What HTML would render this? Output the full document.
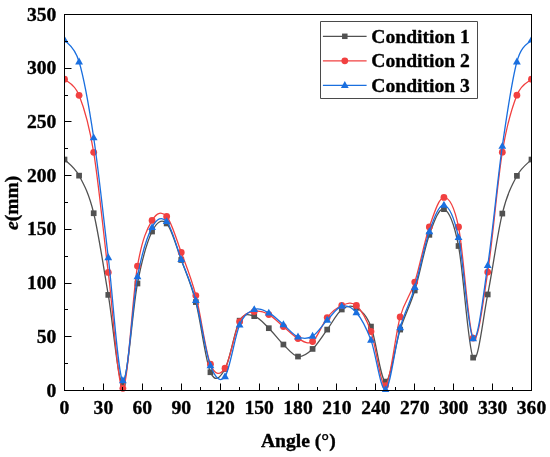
<!DOCTYPE html>
<html><head><meta charset="utf-8"><title>Chart</title>
<style>html,body{margin:0;padding:0;background:#fff}svg{display:block}</style></head>
<body>
<svg width="550" height="457" viewBox="0 0 550 457">
<rect width="550" height="457" fill="#fff"/>
<defs><clipPath id="c"><rect x="64.5" y="14.5" width="467.0" height="377.5"/></clipPath></defs>
<g clip-path="url(#c)">
<path d="M64.50,159.53C66.93,162.21 74.23,166.69 79.09,175.64C83.96,184.60 88.82,193.37 93.69,213.24C98.55,233.12 103.42,266.60 108.28,294.89C113.15,323.18 118.01,384.88 122.88,382.98C127.74,381.08 132.60,308.75 137.47,283.50C142.33,258.26 147.20,241.51 152.06,231.51C156.93,221.50 161.79,218.70 166.66,223.45C171.52,228.19 176.39,246.87 181.25,259.97C186.11,273.08 190.98,283.38 195.84,302.09C200.71,320.80 205.57,361.08 210.44,372.24C215.30,383.39 220.17,377.61 225.03,369.01C229.90,360.42 234.76,329.48 239.62,320.67C244.49,311.86 249.35,314.91 254.22,316.16C259.08,317.41 263.95,323.46 268.81,328.19C273.68,332.92 278.54,339.79 283.41,344.52C288.27,349.25 293.14,355.82 298.00,356.55C302.86,357.29 307.73,353.42 312.59,348.93C317.46,344.43 322.32,336.16 327.19,329.59C332.05,323.02 336.92,313.13 341.78,309.50C346.65,305.86 351.51,304.93 356.38,307.78C361.24,310.63 366.10,314.28 370.97,326.58C375.83,338.88 380.70,381.08 385.56,381.58C390.43,382.08 395.29,344.77 400.16,329.59C405.02,314.40 409.89,306.28 414.75,290.48C419.61,274.69 424.48,248.39 429.34,234.84C434.21,221.28 439.07,207.30 443.94,209.16C448.80,211.02 453.67,221.26 458.53,246.01C463.40,270.75 468.26,349.55 473.12,357.63C477.99,365.70 482.85,318.47 487.72,294.46C492.58,270.45 497.45,233.33 502.31,213.57C507.18,193.80 512.04,184.86 516.91,175.86C521.77,166.85 529.07,162.25 531.50,159.53" fill="none" stroke="#515151" stroke-width="1.3"/>
<g fill="#515151"><rect x="61.65" y="156.68" width="5.7" height="5.7"/><rect x="76.24" y="172.79" width="5.7" height="5.7"/><rect x="90.84" y="210.39" width="5.7" height="5.7"/><rect x="105.43" y="292.04" width="5.7" height="5.7"/><rect x="120.03" y="380.13" width="5.7" height="5.7"/><rect x="134.62" y="280.65" width="5.7" height="5.7"/><rect x="149.21" y="228.66" width="5.7" height="5.7"/><rect x="163.81" y="220.60" width="5.7" height="5.7"/><rect x="178.40" y="257.12" width="5.7" height="5.7"/><rect x="192.99" y="299.24" width="5.7" height="5.7"/><rect x="207.59" y="369.39" width="5.7" height="5.7"/><rect x="222.18" y="366.16" width="5.7" height="5.7"/><rect x="236.78" y="317.82" width="5.7" height="5.7"/><rect x="251.37" y="313.31" width="5.7" height="5.7"/><rect x="265.96" y="325.34" width="5.7" height="5.7"/><rect x="280.56" y="341.67" width="5.7" height="5.7"/><rect x="295.15" y="353.70" width="5.7" height="5.7"/><rect x="309.74" y="346.08" width="5.7" height="5.7"/><rect x="324.34" y="326.74" width="5.7" height="5.7"/><rect x="338.93" y="306.65" width="5.7" height="5.7"/><rect x="353.52" y="304.93" width="5.7" height="5.7"/><rect x="368.12" y="323.73" width="5.7" height="5.7"/><rect x="382.71" y="378.73" width="5.7" height="5.7"/><rect x="397.31" y="326.74" width="5.7" height="5.7"/><rect x="411.90" y="287.63" width="5.7" height="5.7"/><rect x="426.49" y="231.99" width="5.7" height="5.7"/><rect x="441.09" y="206.31" width="5.7" height="5.7"/><rect x="455.68" y="243.16" width="5.7" height="5.7"/><rect x="470.27" y="354.78" width="5.7" height="5.7"/><rect x="484.87" y="291.61" width="5.7" height="5.7"/><rect x="499.46" y="210.72" width="5.7" height="5.7"/><rect x="514.06" y="173.01" width="5.7" height="5.7"/><rect x="528.65" y="156.68" width="5.7" height="5.7"/></g>
<path d="M64.50,79.17C66.93,81.86 74.23,83.09 79.09,95.29C83.96,107.48 88.82,122.81 93.69,152.33C98.55,181.86 103.42,233.10 108.28,272.44C113.15,311.77 118.01,389.41 122.88,388.35C127.74,387.30 132.60,294.08 137.47,266.10C142.33,238.11 147.20,228.71 152.06,220.44C156.93,212.17 161.79,211.13 166.66,216.47C171.52,221.80 176.39,239.28 181.25,252.45C186.11,265.63 190.98,276.91 195.84,295.53C200.71,314.15 205.57,352.08 210.44,364.18C215.30,376.28 220.17,375.26 225.03,368.15C229.90,361.05 234.76,330.97 239.62,321.53C244.49,312.10 249.35,312.70 254.22,311.54C259.08,310.38 263.95,312.04 268.81,314.55C273.68,317.05 278.54,322.59 283.41,326.58C288.27,330.57 293.14,336.02 298.00,338.50C302.86,340.99 307.73,345.00 312.59,341.51C317.46,338.02 322.32,323.55 327.19,317.56C332.05,311.56 336.92,307.53 341.78,305.52C346.65,303.52 351.51,301.19 356.38,305.52C361.24,309.86 366.10,318.18 370.97,331.52C375.83,344.86 380.70,387.99 385.56,385.56C390.43,383.12 395.29,334.15 400.16,316.91C405.02,299.67 409.89,297.09 414.75,282.10C419.61,267.12 424.48,241.10 429.34,226.99C434.21,212.88 439.07,197.45 443.94,197.45C448.80,197.45 453.67,203.56 458.53,226.99C463.40,250.43 468.26,330.55 473.12,338.07C477.99,345.59 482.85,303.09 487.72,272.11C492.58,241.14 497.45,181.71 502.31,152.22C507.18,122.73 512.04,107.35 516.91,95.18C521.77,83.00 529.07,81.84 531.50,79.17" fill="none" stroke="#F14040" stroke-width="1.3"/>
<g fill="#F14040"><circle cx="64.50" cy="79.17" r="3.4"/><circle cx="79.09" cy="95.29" r="3.4"/><circle cx="93.69" cy="152.33" r="3.4"/><circle cx="108.28" cy="272.44" r="3.4"/><circle cx="122.88" cy="388.35" r="3.4"/><circle cx="137.47" cy="266.10" r="3.4"/><circle cx="152.06" cy="220.44" r="3.4"/><circle cx="166.66" cy="216.47" r="3.4"/><circle cx="181.25" cy="252.45" r="3.4"/><circle cx="195.84" cy="295.53" r="3.4"/><circle cx="210.44" cy="364.18" r="3.4"/><circle cx="225.03" cy="368.15" r="3.4"/><circle cx="239.62" cy="321.53" r="3.4"/><circle cx="254.22" cy="311.54" r="3.4"/><circle cx="268.81" cy="314.55" r="3.4"/><circle cx="283.41" cy="326.58" r="3.4"/><circle cx="298.00" cy="338.50" r="3.4"/><circle cx="312.59" cy="341.51" r="3.4"/><circle cx="327.19" cy="317.56" r="3.4"/><circle cx="341.78" cy="305.52" r="3.4"/><circle cx="356.38" cy="305.52" r="3.4"/><circle cx="370.97" cy="331.52" r="3.4"/><circle cx="385.56" cy="385.56" r="3.4"/><circle cx="400.16" cy="316.91" r="3.4"/><circle cx="414.75" cy="282.10" r="3.4"/><circle cx="429.34" cy="226.99" r="3.4"/><circle cx="443.94" cy="197.45" r="3.4"/><circle cx="458.53" cy="226.99" r="3.4"/><circle cx="473.12" cy="338.07" r="3.4"/><circle cx="487.72" cy="272.11" r="3.4"/><circle cx="502.31" cy="152.22" r="3.4"/><circle cx="516.91" cy="95.18" r="3.4"/><circle cx="531.50" cy="79.17" r="3.4"/></g>
<path d="M64.50,39.96C66.93,43.60 74.23,45.48 79.09,61.77C83.96,78.06 88.82,105.10 93.69,137.72C98.55,170.34 103.42,217.02 108.28,257.50C113.15,297.99 118.01,377.45 122.88,380.62C127.74,383.79 132.60,302.05 137.47,276.52C142.33,250.99 147.20,236.61 152.06,227.42C156.93,218.24 161.79,216.07 166.66,221.41C171.52,226.74 176.39,246.26 181.25,259.44C186.11,272.62 190.98,282.78 195.84,300.47C200.71,318.16 205.57,352.90 210.44,365.58C215.30,378.25 220.17,383.30 225.03,376.53C229.90,369.77 234.76,336.14 239.62,324.97C244.49,313.80 249.35,311.50 254.22,309.50C259.08,307.49 263.95,310.43 268.81,312.94C273.68,315.44 278.54,320.55 283.41,324.54C288.27,328.53 293.14,334.96 298.00,336.89C302.86,338.83 307.73,338.93 312.59,336.14C317.46,333.35 322.32,325.13 327.19,320.13C332.05,315.14 336.92,307.44 341.78,306.17C346.65,304.90 351.51,306.85 356.38,312.51C361.24,318.16 366.10,327.26 370.97,340.12C375.83,352.97 380.70,391.74 385.56,389.64C390.43,387.55 395.29,344.57 400.16,327.55C405.02,310.52 409.89,303.48 414.75,287.48C419.61,271.47 424.48,245.24 429.34,231.51C434.21,217.77 439.07,204.09 443.94,205.08C448.80,206.06 453.67,215.16 458.53,237.41C463.40,259.67 468.26,333.94 473.12,338.61C477.99,343.29 482.85,297.52 487.72,265.45C492.58,233.39 497.45,180.15 502.31,146.21C507.18,112.26 512.04,79.48 516.91,61.77C521.77,44.06 529.07,43.60 531.50,39.96" fill="none" stroke="#1A6FDF" stroke-width="1.3"/>
<g fill="#1A6FDF"><path d="M64.50,35.68L68.40,42.58L60.60,42.58Z"/><path d="M79.09,57.49L82.99,64.39L75.19,64.39Z"/><path d="M93.69,133.44L97.59,140.34L89.79,140.34Z"/><path d="M108.28,253.23L112.18,260.13L104.38,260.13Z"/><path d="M122.88,376.34L126.78,383.24L118.97,383.24Z"/><path d="M137.47,272.24L141.37,279.14L133.57,279.14Z"/><path d="M152.06,223.15L155.96,230.05L148.16,230.05Z"/><path d="M166.66,217.13L170.56,224.03L162.76,224.03Z"/><path d="M181.25,255.16L185.15,262.06L177.35,262.06Z"/><path d="M195.84,296.20L199.74,303.10L191.94,303.10Z"/><path d="M210.44,361.30L214.34,368.20L206.54,368.20Z"/><path d="M225.03,372.26L228.93,379.16L221.13,379.16Z"/><path d="M239.62,320.69L243.53,327.59L235.72,327.59Z"/><path d="M254.22,305.22L258.12,312.12L250.32,312.12Z"/><path d="M268.81,308.66L272.71,315.56L264.91,315.56Z"/><path d="M283.41,320.26L287.31,327.16L279.51,327.16Z"/><path d="M298.00,332.62L301.90,339.52L294.10,339.52Z"/><path d="M312.59,331.86L316.49,338.76L308.69,338.76Z"/><path d="M327.19,315.86L331.09,322.76L323.29,322.76Z"/><path d="M341.78,301.89L345.68,308.79L337.88,308.79Z"/><path d="M356.38,308.23L360.27,315.13L352.48,315.13Z"/><path d="M370.97,335.84L374.87,342.74L367.07,342.74Z"/><path d="M385.56,385.36L389.46,392.26L381.66,392.26Z"/><path d="M400.16,323.27L404.06,330.17L396.26,330.17Z"/><path d="M414.75,283.20L418.65,290.10L410.85,290.10Z"/><path d="M429.34,227.23L433.24,234.13L425.44,234.13Z"/><path d="M443.94,200.80L447.84,207.70L440.04,207.70Z"/><path d="M458.53,233.14L462.43,240.04L454.63,240.04Z"/><path d="M473.12,334.33L477.02,341.23L469.23,341.23Z"/><path d="M487.72,261.18L491.62,268.08L483.82,268.08Z"/><path d="M502.31,141.93L506.21,148.83L498.41,148.83Z"/><path d="M516.91,57.49L520.81,64.39L513.01,64.39Z"/><path d="M531.50,35.68L535.40,42.58L527.60,42.58Z"/></g>
</g>
<g stroke="#000" stroke-width="1" fill="none">
<rect x="64.5" y="14.5" width="467.0" height="376.0"/>
<path d="M83.50,390.5v-3.5M103.50,390.5v-7M122.50,390.5v-3.5M142.50,390.5v-7M161.50,390.5v-3.5M181.50,390.5v-7M200.50,390.5v-3.5M220.50,390.5v-7M239.50,390.5v-3.5M259.50,390.5v-7M278.50,390.5v-3.5M298.50,390.5v-7M317.50,390.5v-3.5M336.50,390.5v-7M356.50,390.5v-3.5M375.50,390.5v-7M395.50,390.5v-3.5M414.50,390.5v-7M434.50,390.5v-3.5M453.50,390.5v-7M473.50,390.5v-3.5M492.50,390.5v-7M512.50,390.5v-3.5M64.5,363.50h3.5M64.5,336.50h7M64.5,309.50h3.5M64.5,283.50h7M64.5,256.50h3.5M64.5,229.50h7M64.5,202.50h3.5M64.5,175.50h7M64.5,148.50h3.5M64.5,121.50h7M64.5,95.50h3.5M64.5,68.50h7M64.5,41.50h3.5"/>
</g>
<g font-family="'Liberation Serif', serif" font-weight="bold" font-size="19.6" fill="#000" stroke="#000" stroke-width="0.35" stroke-linejoin="round">
<text x="64.50" y="413.7" text-anchor="middle">0</text>
<text x="103.42" y="413.7" text-anchor="middle">30</text>
<text x="142.33" y="413.7" text-anchor="middle">60</text>
<text x="181.25" y="413.7" text-anchor="middle">90</text>
<text x="220.17" y="413.7" text-anchor="middle">120</text>
<text x="259.08" y="413.7" text-anchor="middle">150</text>
<text x="298.00" y="413.7" text-anchor="middle">180</text>
<text x="336.92" y="413.7" text-anchor="middle">210</text>
<text x="375.83" y="413.7" text-anchor="middle">240</text>
<text x="414.75" y="413.7" text-anchor="middle">270</text>
<text x="453.67" y="413.7" text-anchor="middle">300</text>
<text x="492.58" y="413.7" text-anchor="middle">330</text>
<text x="531.50" y="413.7" text-anchor="middle">360</text>
<text x="56.3" y="396.50" text-anchor="end">0</text>
<text x="56.3" y="342.79" text-anchor="end">50</text>
<text x="56.3" y="289.07" text-anchor="end">100</text>
<text x="56.3" y="235.36" text-anchor="end">150</text>
<text x="56.3" y="181.64" text-anchor="end">200</text>
<text x="56.3" y="127.93" text-anchor="end">250</text>
<text x="56.3" y="74.21" text-anchor="end">300</text>
<text x="56.3" y="20.50" text-anchor="end">350</text>
<text x="298.3" y="446.5" text-anchor="middle">Angle (°)</text>
<text transform="translate(17.6,202.8) rotate(-90)" text-anchor="middle"><tspan font-style="italic">e</tspan>(mm)</text>
<rect x="320.5" y="21.5" width="157" height="77" fill="#fff" stroke="#4a4a4a" stroke-width="1"/>
<path d="M322.9,36.3H366.6" stroke="#515151" stroke-width="1.3"/>
<rect x="342.05" y="33.55" width="5.5" height="5.5" fill="#515151" stroke="none"/>
<text x="371.3" y="42.7">Condition 1</text>
<path d="M322.9,60.8H366.6" stroke="#F14040" stroke-width="1.3"/>
<circle cx="344.8" cy="60.8" r="3.4" fill="#F14040" stroke="none"/>
<text x="371.3" y="67.2">Condition 2</text>
<path d="M322.9,85.3H366.6" stroke="#1A6FDF" stroke-width="1.3"/>
<path d="M344.8,81.02L348.7,87.92L340.90,87.92Z" fill="#1A6FDF" stroke="none"/>
<text x="371.3" y="91.7">Condition 3</text>
</g>
</svg>
</body></html>
